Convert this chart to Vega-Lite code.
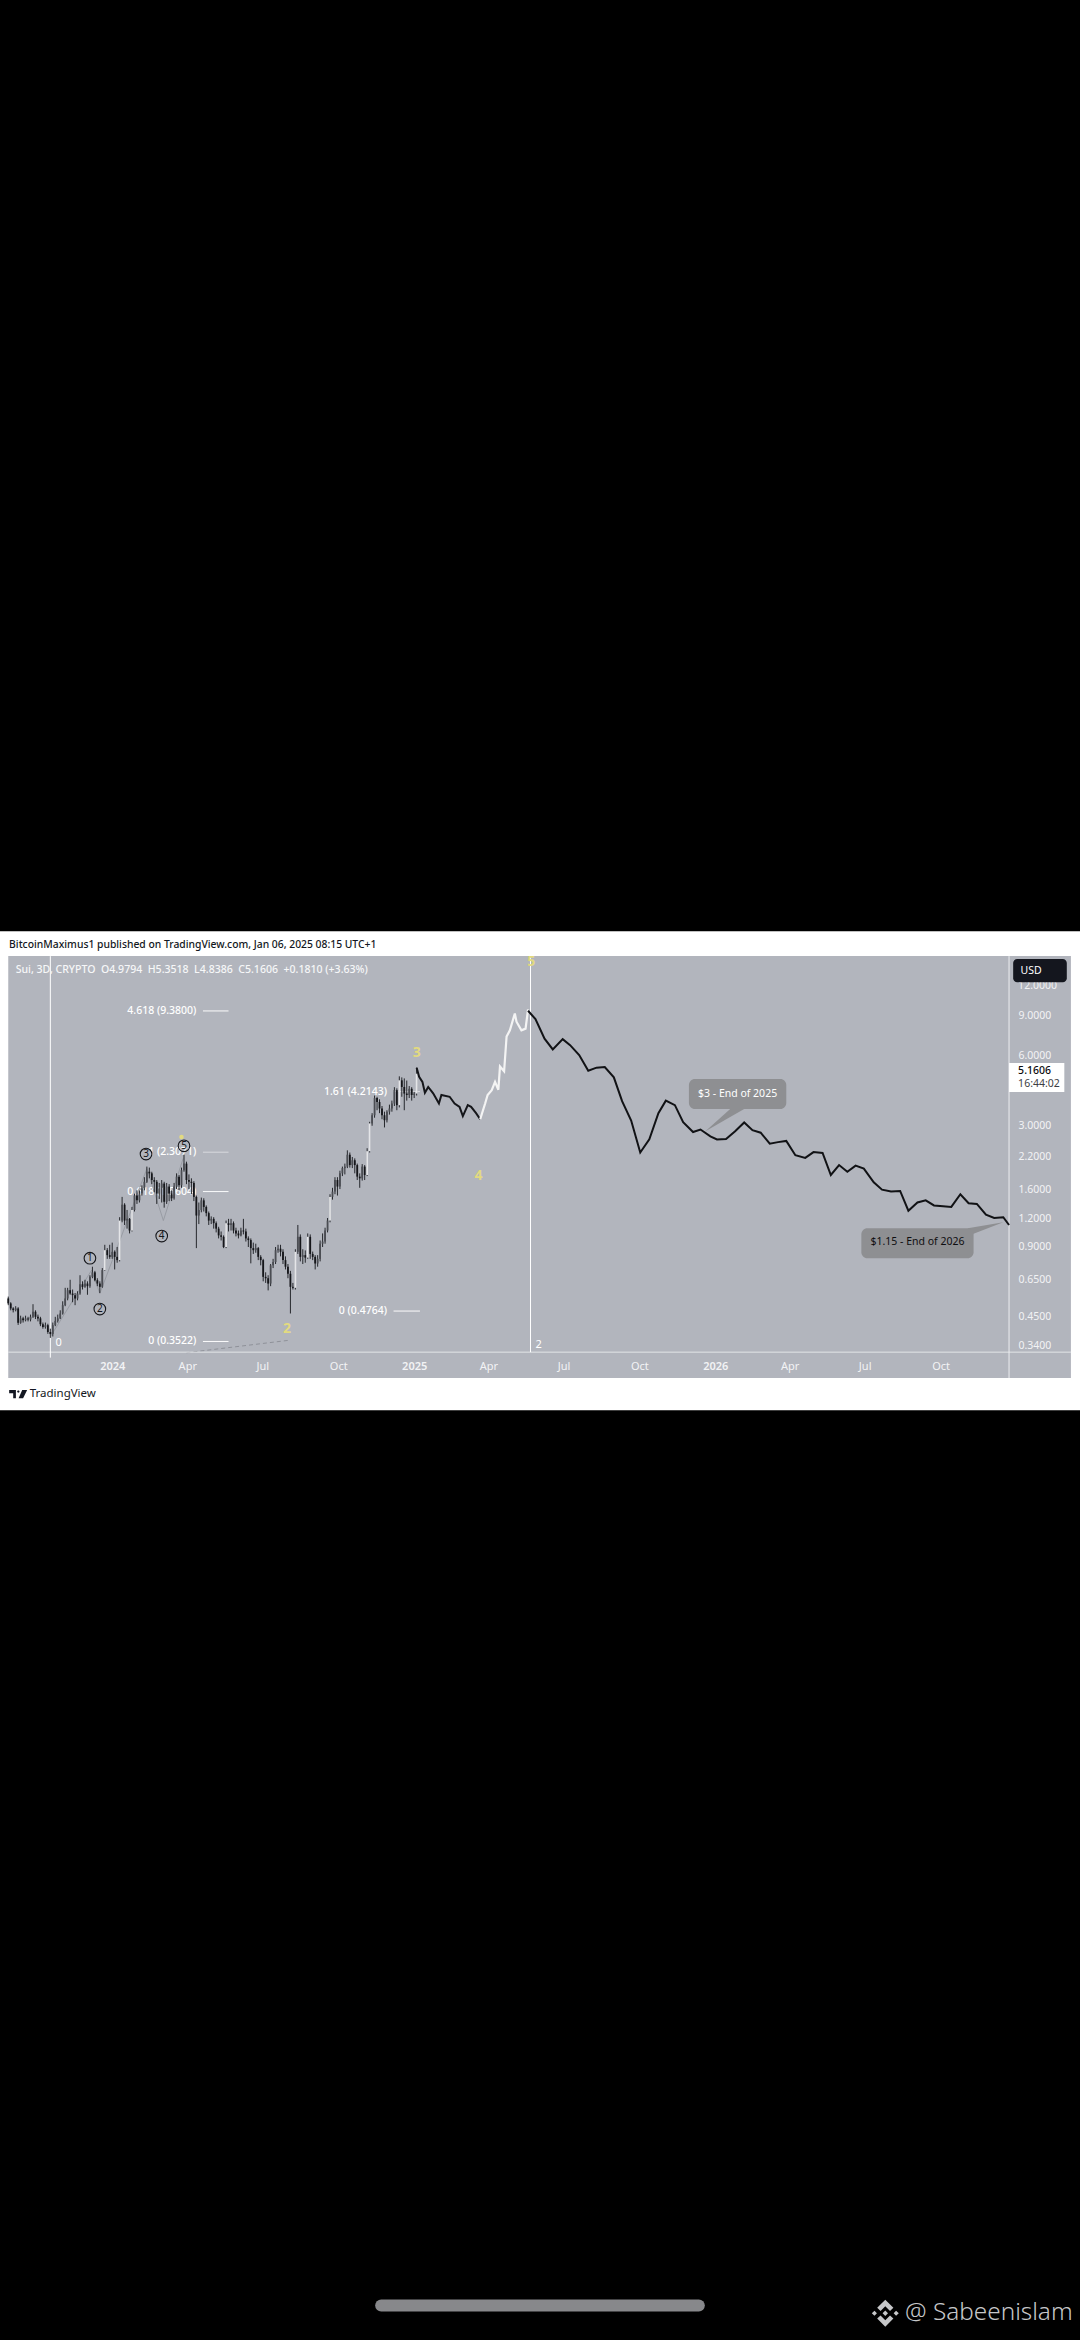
{
  "$schema": "https://vega.github.io/schema/vega-lite/v6.json",
  "width": 1080,
  "height": 2340,
  "padding": 0,
  "autosize": {"type": "none"},
  "background": "#000000",
  "config": {"view": {"stroke": null}, "font": "Noto Sans"},
  "datasets": {
    "candles": [
      {"date":"2023-08-28","open":0.54,"high":0.55,"low":0.505,"close":0.514},
      {"date":"2023-08-31","open":0.514,"high":0.52,"low":0.48,"close":0.489},
      {"date":"2023-09-03","open":0.489,"high":0.495,"low":0.47,"close":0.481},
      {"date":"2023-09-06","open":0.481,"high":0.5,"low":0.475,"close":0.489},
      {"date":"2023-09-09","open":0.489,"high":0.495,"low":0.415,"close":0.424},
      {"date":"2023-09-12","open":0.424,"high":0.455,"low":0.42,"close":0.443},
      {"date":"2023-09-15","open":0.443,"high":0.45,"low":0.425,"close":0.435},
      {"date":"2023-09-18","open":0.435,"high":0.455,"low":0.43,"close":0.443},
      {"date":"2023-09-21","open":0.443,"high":0.45,"low":0.43,"close":0.438},
      {"date":"2023-09-24","open":0.438,"high":0.46,"low":0.43,"close":0.45},
      {"date":"2023-09-27","open":0.45,"high":0.51,"low":0.445,"close":0.473},
      {"date":"2023-09-30","open":0.473,"high":0.48,"low":0.44,"close":0.45},
      {"date":"2023-10-03","open":0.45,"high":0.46,"low":0.43,"close":0.443},
      {"date":"2023-10-06","open":0.443,"high":0.45,"low":0.41,"close":0.418},
      {"date":"2023-10-09","open":0.418,"high":0.425,"low":0.4,"close":0.407},
      {"date":"2023-10-12","open":0.407,"high":0.425,"low":0.4,"close":0.414},
      {"date":"2023-10-15","open":0.414,"high":0.42,"low":0.38,"close":0.387},
      {"date":"2023-10-18","open":0.387,"high":0.4,"low":0.365,"close":0.379},
      {"date":"2023-10-21","open":0.379,"high":0.425,"low":0.37,"close":0.414},
      {"date":"2023-10-24","open":0.414,"high":0.45,"low":0.41,"close":0.432},
      {"date":"2023-10-27","open":0.432,"high":0.46,"low":0.425,"close":0.443},
      {"date":"2023-10-30","open":0.443,"high":0.48,"low":0.44,"close":0.465},
      {"date":"2023-11-02","open":0.465,"high":0.525,"low":0.46,"close":0.505},
      {"date":"2023-11-05","open":0.505,"high":0.6,"low":0.5,"close":0.54},
      {"date":"2023-11-08","open":0.54,"high":0.6,"low":0.53,"close":0.586},
      {"date":"2023-11-11","open":0.586,"high":0.65,"low":0.56,"close":0.567},
      {"date":"2023-11-14","open":0.567,"high":0.59,"low":0.52,"close":0.558},
      {"date":"2023-11-17","open":0.558,"high":0.57,"low":0.505,"close":0.54},
      {"date":"2023-11-20","open":0.54,"high":0.58,"low":0.53,"close":0.567},
      {"date":"2023-11-23","open":0.567,"high":0.68,"low":0.56,"close":0.622},
      {"date":"2023-11-26","open":0.622,"high":0.64,"low":0.59,"close":0.606},
      {"date":"2023-11-29","open":0.606,"high":0.65,"low":0.6,"close":0.626},
      {"date":"2023-12-02","open":0.626,"high":0.64,"low":0.56,"close":0.61},
      {"date":"2023-12-05","open":0.61,"high":0.68,"low":0.6,"close":0.669},
      {"date":"2023-12-08","open":0.669,"high":0.74,"low":0.66,"close":0.7},
      {"date":"2023-12-11","open":0.7,"high":0.71,"low":0.64,"close":0.647},
      {"date":"2023-12-14","open":0.647,"high":0.66,"low":0.61,"close":0.626},
      {"date":"2023-12-17","open":0.626,"high":0.64,"low":0.57,"close":0.606},
      {"date":"2023-12-20","open":0.606,"high":0.73,"low":0.6,"close":0.715},
      {"date":"2023-12-23","open":0.715,"high":0.92,"low":0.71,"close":0.872},
      {"date":"2023-12-26","open":0.872,"high":0.89,"low":0.8,"close":0.83},
      {"date":"2023-12-29","open":0.83,"high":0.92,"low":0.8,"close":0.816},
      {"date":"2024-01-01","open":0.816,"high":0.94,"low":0.8,"close":0.858},
      {"date":"2024-01-04","open":0.858,"high":0.87,"low":0.72,"close":0.816},
      {"date":"2024-01-07","open":0.816,"high":0.9,"low":0.77,"close":0.79},
      {"date":"2024-01-10","open":0.79,"high":1.21,"low":0.78,"close":1.17},
      {"date":"2024-01-13","open":1.17,"high":1.48,"low":1.15,"close":1.37},
      {"date":"2024-01-16","open":1.37,"high":1.39,"low":1.12,"close":1.17},
      {"date":"2024-01-19","open":1.17,"high":1.3,"low":1.08,"close":1.19},
      {"date":"2024-01-22","open":1.19,"high":1.2,"low":1.03,"close":1.06},
      {"date":"2024-01-25","open":1.06,"high":1.34,"low":1.05,"close":1.3},
      {"date":"2024-01-28","open":1.3,"high":1.53,"low":1.28,"close":1.5},
      {"date":"2024-01-31","open":1.5,"high":1.58,"low":1.38,"close":1.43},
      {"date":"2024-02-03","open":1.43,"high":1.58,"low":1.4,"close":1.53},
      {"date":"2024-02-06","open":1.53,"high":1.66,"low":1.5,"close":1.61},
      {"date":"2024-02-09","open":1.61,"high":1.8,"low":1.58,"close":1.72},
      {"date":"2024-02-12","open":1.72,"high":2.0,"low":1.7,"close":1.9},
      {"date":"2024-02-15","open":1.9,"high":1.98,"low":1.78,"close":1.87},
      {"date":"2024-02-18","open":1.87,"high":1.9,"low":1.68,"close":1.75},
      {"date":"2024-02-21","open":1.75,"high":1.8,"low":1.55,"close":1.72},
      {"date":"2024-02-24","open":1.72,"high":1.75,"low":1.38,"close":1.53},
      {"date":"2024-02-27","open":1.53,"high":1.7,"low":1.45,"close":1.61},
      {"date":"2024-03-01","open":1.61,"high":1.75,"low":1.4,"close":1.69},
      {"date":"2024-03-04","open":1.69,"high":1.72,"low":1.33,"close":1.41},
      {"date":"2024-03-07","open":1.41,"high":1.7,"low":1.38,"close":1.64},
      {"date":"2024-03-10","open":1.64,"high":1.68,"low":1.42,"close":1.53},
      {"date":"2024-03-13","open":1.53,"high":1.58,"low":1.42,"close":1.46},
      {"date":"2024-03-16","open":1.46,"high":1.7,"low":1.44,"close":1.64},
      {"date":"2024-03-19","open":1.64,"high":1.87,"low":1.6,"close":1.81},
      {"date":"2024-03-22","open":1.81,"high":1.84,"low":1.58,"close":1.66},
      {"date":"2024-03-25","open":1.66,"high":1.98,"low":1.62,"close":1.93},
      {"date":"2024-03-28","open":1.93,"high":2.25,"low":1.9,"close":2.06},
      {"date":"2024-03-31","open":2.06,"high":2.1,"low":1.68,"close":1.75},
      {"date":"2024-04-03","open":1.75,"high":1.85,"low":1.6,"close":1.72},
      {"date":"2024-04-06","open":1.72,"high":1.78,"low":1.52,"close":1.7},
      {"date":"2024-04-09","open":1.7,"high":1.73,"low":1.42,"close":1.48},
      {"date":"2024-04-12","open":1.48,"high":1.5,"low":0.89,"close":1.23},
      {"date":"2024-04-15","open":1.23,"high":1.4,"low":1.13,"close":1.3},
      {"date":"2024-04-18","open":1.3,"high":1.47,"low":1.27,"close":1.43},
      {"date":"2024-04-21","open":1.43,"high":1.46,"low":1.28,"close":1.34},
      {"date":"2024-04-24","open":1.34,"high":1.36,"low":1.22,"close":1.26},
      {"date":"2024-04-27","open":1.26,"high":1.28,"low":1.12,"close":1.17},
      {"date":"2024-04-30","open":1.17,"high":1.22,"low":1.13,"close":1.19},
      {"date":"2024-05-03","open":1.19,"high":1.21,"low":1.08,"close":1.14},
      {"date":"2024-05-06","open":1.14,"high":1.16,"low":1.04,"close":1.08},
      {"date":"2024-05-09","open":1.08,"high":1.1,"low":0.98,"close":1.01},
      {"date":"2024-05-12","open":1.01,"high":1.05,"low":0.96,"close":0.996},
      {"date":"2024-05-15","open":0.996,"high":1.01,"low":0.89,"close":0.9},
      {"date":"2024-05-18","open":0.9,"high":1.17,"low":0.89,"close":1.14},
      {"date":"2024-05-21","open":1.14,"high":1.19,"low":1.05,"close":1.12},
      {"date":"2024-05-24","open":1.12,"high":1.19,"low":1.06,"close":1.14},
      {"date":"2024-05-27","open":1.14,"high":1.16,"low":1.03,"close":1.06},
      {"date":"2024-05-30","open":1.06,"high":1.09,"low":1.0,"close":1.03},
      {"date":"2024-06-02","open":1.03,"high":1.06,"low":0.98,"close":1.01},
      {"date":"2024-06-05","open":1.01,"high":1.09,"low":1.0,"close":1.06},
      {"date":"2024-06-08","open":1.06,"high":1.19,"low":1.02,"close":1.05},
      {"date":"2024-06-11","open":1.05,"high":1.08,"low":0.95,"close":0.98},
      {"date":"2024-06-14","open":0.98,"high":1.0,"low":0.9,"close":0.964},
      {"date":"2024-06-17","open":0.964,"high":0.98,"low":0.765,"close":0.89},
      {"date":"2024-06-20","open":0.89,"high":0.94,"low":0.84,"close":0.872},
      {"date":"2024-06-23","open":0.872,"high":0.93,"low":0.85,"close":0.89},
      {"date":"2024-06-26","open":0.89,"high":0.9,"low":0.79,"close":0.816},
      {"date":"2024-06-29","open":0.816,"high":0.83,"low":0.75,"close":0.79},
      {"date":"2024-07-02","open":0.79,"high":0.8,"low":0.64,"close":0.669},
      {"date":"2024-07-05","open":0.669,"high":0.7,"low":0.63,"close":0.66},
      {"date":"2024-07-08","open":0.66,"high":0.68,"low":0.585,"close":0.626},
      {"date":"2024-07-11","open":0.626,"high":0.76,"low":0.61,"close":0.75},
      {"date":"2024-07-14","open":0.75,"high":0.8,"low":0.73,"close":0.775},
      {"date":"2024-07-17","open":0.775,"high":0.9,"low":0.76,"close":0.872},
      {"date":"2024-07-20","open":0.872,"high":0.92,"low":0.85,"close":0.885},
      {"date":"2024-07-23","open":0.885,"high":0.92,"low":0.82,"close":0.858},
      {"date":"2024-07-26","open":0.858,"high":0.88,"low":0.76,"close":0.79},
      {"date":"2024-07-29","open":0.79,"high":0.82,"low":0.72,"close":0.74},
      {"date":"2024-08-01","open":0.74,"high":0.76,"low":0.66,"close":0.69},
      {"date":"2024-08-04","open":0.69,"high":0.71,"low":0.465,"close":0.606},
      {"date":"2024-08-07","open":0.606,"high":0.63,"low":0.59,"close":0.6},
      {"date":"2024-08-10","open":0.6,"high":0.88,"low":0.59,"close":0.858},
      {"date":"2024-08-13","open":0.858,"high":1.12,"low":0.84,"close":0.996},
      {"date":"2024-08-16","open":0.996,"high":1.02,"low":0.78,"close":0.816},
      {"date":"2024-08-19","open":0.816,"high":0.88,"low":0.76,"close":0.83},
      {"date":"2024-08-22","open":0.83,"high":0.87,"low":0.77,"close":0.81},
      {"date":"2024-08-25","open":0.81,"high":1.03,"low":0.8,"close":0.996},
      {"date":"2024-08-28","open":0.996,"high":1.02,"low":0.8,"close":0.84},
      {"date":"2024-08-31","open":0.84,"high":0.86,"low":0.79,"close":0.816},
      {"date":"2024-09-03","open":0.816,"high":0.83,"low":0.72,"close":0.764},
      {"date":"2024-09-06","open":0.764,"high":0.83,"low":0.74,"close":0.8},
      {"date":"2024-09-09","open":0.8,"high":0.96,"low":0.78,"close":0.93},
      {"date":"2024-09-12","open":0.93,"high":1.03,"low":0.9,"close":0.95},
      {"date":"2024-09-15","open":0.95,"high":1.09,"low":0.93,"close":1.06},
      {"date":"2024-09-18","open":1.06,"high":1.2,"low":1.04,"close":1.17},
      {"date":"2024-09-21","open":1.17,"high":1.52,"low":1.15,"close":1.48},
      {"date":"2024-09-24","open":1.48,"high":1.62,"low":1.44,"close":1.56},
      {"date":"2024-09-27","open":1.56,"high":1.8,"low":1.52,"close":1.75},
      {"date":"2024-09-30","open":1.75,"high":1.8,"low":1.5,"close":1.64},
      {"date":"2024-10-03","open":1.64,"high":1.92,"low":1.6,"close":1.87},
      {"date":"2024-10-06","open":1.87,"high":2.0,"low":1.82,"close":1.97},
      {"date":"2024-10-09","open":1.97,"high":2.06,"low":1.85,"close":2.0},
      {"date":"2024-10-12","open":2.0,"high":2.35,"low":1.97,"close":2.25},
      {"date":"2024-10-15","open":2.25,"high":2.3,"low":1.98,"close":2.03},
      {"date":"2024-10-18","open":2.03,"high":2.2,"low":1.97,"close":2.13},
      {"date":"2024-10-21","open":2.13,"high":2.17,"low":1.87,"close":2.03},
      {"date":"2024-10-24","open":2.03,"high":2.06,"low":1.75,"close":1.81},
      {"date":"2024-10-27","open":1.81,"high":1.87,"low":1.62,"close":1.78},
      {"date":"2024-10-30","open":1.78,"high":2.05,"low":1.74,"close":2.0},
      {"date":"2024-11-02","open":2.0,"high":2.03,"low":1.75,"close":1.84},
      {"date":"2024-11-05","open":1.84,"high":2.4,"low":1.82,"close":2.33},
      {"date":"2024-11-08","open":2.33,"high":3.12,"low":2.3,"close":3.07},
      {"date":"2024-11-11","open":3.07,"high":3.4,"low":3.0,"close":3.33},
      {"date":"2024-11-14","open":3.33,"high":4.05,"low":3.25,"close":3.95},
      {"date":"2024-11-17","open":3.95,"high":4.0,"low":3.5,"close":3.8},
      {"date":"2024-11-20","open":3.8,"high":3.9,"low":3.4,"close":3.56},
      {"date":"2024-11-23","open":3.56,"high":3.65,"low":3.2,"close":3.33},
      {"date":"2024-11-26","open":3.33,"high":3.45,"low":2.95,"close":3.17},
      {"date":"2024-11-29","open":3.17,"high":3.5,"low":3.1,"close":3.45},
      {"date":"2024-12-02","open":3.45,"high":3.7,"low":3.35,"close":3.56},
      {"date":"2024-12-05","open":3.56,"high":3.85,"low":3.45,"close":3.74},
      {"date":"2024-12-08","open":3.74,"high":4.4,"low":3.65,"close":4.27},
      {"date":"2024-12-11","open":4.27,"high":4.35,"low":3.5,"close":3.68},
      {"date":"2024-12-14","open":3.68,"high":4.9,"low":3.6,"close":4.71},
      {"date":"2024-12-17","open":4.71,"high":4.85,"low":4.0,"close":4.41},
      {"date":"2024-12-20","open":4.41,"high":4.8,"low":3.5,"close":4.13},
      {"date":"2024-12-23","open":4.13,"high":4.7,"low":3.85,"close":4.07},
      {"date":"2024-12-26","open":4.07,"high":4.45,"low":3.95,"close":4.33},
      {"date":"2024-12-29","open":4.33,"high":4.4,"low":3.85,"close":4.07},
      {"date":"2025-01-01","open":4.07,"high":4.2,"low":3.95,"close":4.13},
      {"date":"2025-01-04","open":4.13,"high":5.35,"low":4.05,"close":5.03}
    ],
    "pullback": [
      {"date":"2025-01-04","price":5.34},{"date":"2025-01-07","price":4.88},{"date":"2025-01-11","price":4.64},
      {"date":"2025-01-14","price":4.16},{"date":"2025-01-18","price":4.41},{"date":"2025-01-24","price":4.14},
      {"date":"2025-01-31","price":3.74},{"date":"2025-02-03","price":4.07},{"date":"2025-02-13","price":4.0},
      {"date":"2025-02-19","price":3.74},{"date":"2025-02-25","price":3.62},{"date":"2025-03-01","price":3.3},
      {"date":"2025-03-07","price":3.68},{"date":"2025-03-11","price":3.62},{"date":"2025-03-17","price":3.4},
      {"date":"2025-03-22","price":3.2}
    ],
    "rally": [
      {"date":"2025-03-22","price":3.2},{"date":"2025-03-28","price":3.74},{"date":"2025-03-31","price":4.07},
      {"date":"2025-04-05","price":4.27},{"date":"2025-04-09","price":4.64},{"date":"2025-04-13","price":4.29},
      {"date":"2025-04-15","price":5.4},{"date":"2025-04-20","price":5.15},{"date":"2025-04-23","price":7.28},
      {"date":"2025-04-27","price":7.74},{"date":"2025-05-03","price":9.15},{"date":"2025-05-05","price":8.43},
      {"date":"2025-05-11","price":7.74},{"date":"2025-05-16","price":7.87},{"date":"2025-05-19","price":9.52}
    ],
    "forecast": [
      {"date":"2025-05-19","price":9.4},{"date":"2025-05-28","price":8.65},{"date":"2025-06-08","price":7.12},
      {"date":"2025-06-18","price":6.4},{"date":"2025-06-30","price":7.09},{"date":"2025-07-09","price":6.68},
      {"date":"2025-07-20","price":6.05},{"date":"2025-07-31","price":5.18},{"date":"2025-08-10","price":5.34},
      {"date":"2025-08-20","price":5.37},{"date":"2025-08-31","price":4.85},{"date":"2025-09-10","price":3.83},
      {"date":"2025-09-21","price":3.16},{"date":"2025-10-02","price":2.3},{"date":"2025-10-13","price":2.62},
      {"date":"2025-10-24","price":3.4},{"date":"2025-11-02","price":3.85},{"date":"2025-11-13","price":3.68},
      {"date":"2025-11-23","price":3.11},{"date":"2025-12-05","price":2.82},{"date":"2025-12-14","price":2.89},
      {"date":"2025-12-26","price":2.7},{"date":"2026-01-03","price":2.62},{"date":"2026-01-14","price":2.63},
      {"date":"2026-01-25","price":2.84},{"date":"2026-02-05","price":3.1},{"date":"2026-02-15","price":2.87},
      {"date":"2026-02-25","price":2.8},{"date":"2026-03-08","price":2.51},{"date":"2026-03-18","price":2.55},
      {"date":"2026-03-28","price":2.58},{"date":"2026-04-08","price":2.24},{"date":"2026-04-20","price":2.18},
      {"date":"2026-04-30","price":2.31},{"date":"2026-05-11","price":2.29},{"date":"2026-05-21","price":1.84},
      {"date":"2026-05-31","price":2.03},{"date":"2026-06-10","price":1.9},{"date":"2026-06-20","price":2.02},
      {"date":"2026-06-30","price":1.96},{"date":"2026-07-12","price":1.71},{"date":"2026-07-22","price":1.59},
      {"date":"2026-08-02","price":1.56},{"date":"2026-08-13","price":1.57},{"date":"2026-08-23","price":1.29},
      {"date":"2026-09-03","price":1.4},{"date":"2026-09-13","price":1.43},{"date":"2026-09-23","price":1.36},
      {"date":"2026-10-04","price":1.35},{"date":"2026-10-14","price":1.34},{"date":"2026-10-25","price":1.52},
      {"date":"2026-11-04","price":1.39},{"date":"2026-11-14","price":1.38},{"date":"2026-11-25","price":1.24},
      {"date":"2026-12-05","price":1.2},{"date":"2026-12-16","price":1.21},{"date":"2026-12-23","price":1.12}
    ],
    "subwaves": [
      {"date":"2023-10-18","price":0.369},{"date":"2023-12-07","price":0.715},{"date":"2023-12-17","price":0.567},
      {"date":"2024-02-12","price":1.96},{"date":"2024-03-03","price":1.17},{"date":"2024-03-27","price":2.17}
    ],
    "fibLabels": [
      {"date":"2024-04-12","price":9.38,"label":"4.618 (9.3800)"},
      {"date":"2024-04-12","price":2.3071,"label":"1 (2.3071)"},
      {"date":"2024-04-12","price":1.5604,"label":"0.618 (1.5604)"},
      {"date":"2024-04-12","price":0.3522,"label":"0 (0.3522)"},
      {"date":"2024-11-29","price":4.2143,"label":"1.61 (4.2143)"},
      {"date":"2024-11-29","price":0.4764,"label":"0 (0.4764)"}
    ],
    "fibLines": [
      {"date":"2024-04-20","date2":"2024-05-21","price":9.38,"level":4.618},
      {"date":"2024-04-20","date2":"2024-05-21","price":2.3071,"level":1},
      {"date":"2024-04-20","date2":"2024-05-21","price":1.5604,"level":0.618},
      {"date":"2024-04-20","date2":"2024-05-21","price":0.3522,"level":0},
      {"date":"2024-12-07","date2":"2025-01-08","price":4.2143,"level":1.61},
      {"date":"2024-12-07","date2":"2025-01-08","price":0.4764,"level":0}
    ],
    "circled": [
      {"date":"2023-12-05","price":0.805,"label":"1"},
      {"date":"2023-12-17","price":0.486,"label":"2"},
      {"date":"2024-02-11","price":2.264,"label":"3"},
      {"date":"2024-03-01","price":1.003,"label":"4"},
      {"date":"2024-03-28","price":2.458,"label":"5"}
    ],
    "yellowWaves": [
      {"date":"2024-07-31","price":0.398,"label":"2"},
      {"date":"2025-01-04","price":6.19,"label":"3"},
      {"date":"2025-03-20","price":1.824,"label":"4"},
      {"date":"2025-05-23","price":15.27,"label":"5"}
    ],
    "markers": [
      {"date":"2023-10-18","price":16.17,"price2":0.3},
      {"date":"2025-05-22","price":16.17,"price2":0.3168}
    ],
    "callouts": [
      {"date":"2025-11-30","date2":"2026-03-28","price":4.77,"price2":3.54},
      {"date":"2026-06-27","date2":"2026-11-10","price":1.085,"price2":0.805}
    ],
    "pointers": [
      {"id":"a","date":"2025-12-20","price":2.844,"price2":2.844},
      {"id":"a","date":"2026-01-19","price":3.54,"price2":3.27},
      {"id":"a","date":"2026-02-05","price":3.54,"price2":3.54},
      {"id":"b","date":"2026-11-03","price":1.085,"price2":1.003},
      {"id":"b","date":"2026-12-16","price":1.152,"price2":1.152}
    ]
  },
  "encoding": {
    "x": {
      "field": "date",
      "type": "temporal",
      "title": null,
      "scale": {"type": "utc", "domain": ["2023-08-18", "2027-03-19"], "nice": false},
      "axis": {
        "orient": "bottom",
        "offset": -980,
        "values": ["2024-01-01","2024-04-01","2024-07-01","2024-10-01","2025-01-01","2025-04-01","2025-07-01","2025-10-01","2026-01-01","2026-04-01","2026-07-01","2026-10-01"],
        "labelExpr": "utcmonth(datum.value) == 0 ? utcFormat(datum.value, '%Y') : utcFormat(datum.value, '%b')",
        "labelFontWeight": {"condition": {"test": "utcmonth(datum.value) == 0", "value": 600}, "value": 400},
        "labelColor": "#f2f3f5",
        "labelFontSize": 11,
        "labelPadding": 0,
        "labelOverlap": false,
        "domain": false,
        "ticks": false,
        "tickSize": 0,
        "grid": false,
        "zindex": 1
      }
    },
    "y": {
      "field": "price",
      "type": "quantitative",
      "title": null,
      "scale": {"type": "log", "domain": [1.74e-5, 214800], "nice": false},
      "axis": {
        "orient": "right",
        "offset": -62,
        "values": [9, 6, 3, 2.2, 1.6, 1.2, 0.9, 0.65, 0.45, 0.34],
        "format": ".4f",
        "labelColor": "#f2f3f5",
        "labelFontSize": 10.5,
        "labelPadding": 0,
        "labelOverlap": false,
        "domain": false,
        "ticks": false,
        "tickSize": 0,
        "grid": false,
        "zindex": 1
      }
    }
  },
  "layer": [
    {
      "data": {"values": [{"date": "2023-08-18", "date2": "2027-03-19", "price": 20.7, "price2": 0.178}]},
      "mark": {"type": "rect", "color": "#ffffff"},
      "encoding": {"x2": {"field": "date2"}, "y2": {"field": "price2"}}
    },
    {
      "data": {"values": [{"date": "2023-08-28", "date2": "2027-03-08", "price": 16.17, "price2": 0.2448}]},
      "mark": {"type": "rect", "color": "#b2b5bd"},
      "encoding": {"x2": {"field": "date2"}, "y2": {"field": "price2"}}
    },
    {
      "data": {"name": "fibLabels"},
      "mark": {"type": "text", "align": "right", "baseline": "middle", "color": "#ffffff", "fontSize": 10.5, "fontWeight": 500},
      "encoding": {"text": {"field": "label"}}
    },
    {
      "data": {"name": "fibLines"},
      "mark": {"type": "rule", "color": "#ffffff", "strokeWidth": 1},
      "encoding": {
        "x2": {"field": "date2"},
        "opacity": {"condition": {"test": "datum.level == 1 || datum.level == 1.61", "value": 0.5}, "value": 0.95}
      }
    },
    {
      "data": {"name": "subwaves"},
      "mark": {"type": "line", "color": "#92959d", "strokeWidth": 0.8},
      "encoding": {}
    },
    {
      "data": {"values": [{"date": "2024-03-31", "price": 0.315}, {"date": "2024-08-04", "price": 0.357}]},
      "mark": {"type": "line", "color": "#85888f", "strokeWidth": 0.8, "strokeDash": [4, 3]},
      "encoding": {}
    },
    {
      "data": {"values": [{"date": "2023-08-28", "date2": "2027-03-08", "price": 0.3168}]},
      "mark": {"type": "rule", "color": "#e3e5e8", "strokeWidth": 1},
      "encoding": {"x2": {"field": "date2"}}
    },
    {
      "data": {"values": [{"date": "2026-12-23", "price": 16.17, "price2": 0.2448}]},
      "mark": {"type": "rule", "color": "#eceef0", "strokeWidth": 1},
      "encoding": {"y2": {"field": "price2"}}
    },
    {
      "data": {"name": "markers"},
      "mark": {"type": "rule", "color": "#ffffff", "strokeWidth": 1},
      "encoding": {"y2": {"field": "price2"}}
    },
    {
      "data": {"name": "candles"},
      "mark": {"type": "rule", "color": "#26282d", "strokeWidth": 1},
      "encoding": {
        "y": {
          "field": "high",
          "type": "quantitative",
          "title": null,
          "scale": {"type": "log", "domain": [1.74e-5, 214800], "nice": false},
          "axis": {
            "orient": "right",
            "offset": -62,
            "values": [9, 6, 3, 2.2, 1.6, 1.2, 0.9, 0.65, 0.45, 0.34],
            "format": ".4f",
            "labelColor": "#f2f3f5",
            "labelFontSize": 10.5,
            "labelPadding": 0,
            "labelOverlap": false,
            "domain": false,
            "ticks": false,
            "tickSize": 0,
            "grid": false,
            "zindex": 1
          }
        },
        "y2": {"field": "low"}
      }
    },
    {
      "data": {"name": "candles"},
      "mark": {"type": "rule", "strokeWidth": 1.8},
      "encoding": {
        "y": {
          "field": "open",
          "type": "quantitative",
          "title": null,
          "scale": {"type": "log", "domain": [1.74e-5, 214800], "nice": false},
          "axis": {
            "orient": "right",
            "offset": -62,
            "values": [9, 6, 3, 2.2, 1.6, 1.2, 0.9, 0.65, 0.45, 0.34],
            "format": ".4f",
            "labelColor": "#f2f3f5",
            "labelFontSize": 10.5,
            "labelPadding": 0,
            "labelOverlap": false,
            "domain": false,
            "ticks": false,
            "tickSize": 0,
            "grid": false,
            "zindex": 1
          }
        },
        "y2": {"field": "close"},
        "color": {
          "condition": [
            {"test": "datum.close / datum.open > 1.2", "value": "#e4e5e8"},
            {"test": "datum.close > datum.open", "value": "#4b4d53"}
          ],
          "value": "#15161a"
        }
      }
    },
    {
      "data": {"name": "pullback"},
      "mark": {"type": "line", "color": "#15161a", "strokeWidth": 2},
      "encoding": {}
    },
    {
      "data": {"name": "rally"},
      "mark": {"type": "line", "color": "#f4f4f4", "strokeWidth": 2.2},
      "encoding": {}
    },
    {
      "data": {"name": "forecast"},
      "mark": {"type": "line", "color": "#111215", "strokeWidth": 2},
      "encoding": {}
    },
    {
      "data": {"name": "pointers"},
      "mark": {"type": "area", "color": "#8e8f92"},
      "encoding": {"y2": {"field": "price2"}, "detail": {"field": "id"}}
    },
    {
      "data": {"name": "callouts"},
      "mark": {"type": "rect", "color": "#8e8f92", "cornerRadius": 6},
      "encoding": {"x2": {"field": "date2"}, "y2": {"field": "price2"}}
    },
    {
      "data": {"values": [{"date": "2026-01-28", "price": 4.12, "label": "$3 - End of 2025"}]},
      "mark": {"type": "text", "align": "center", "baseline": "middle", "color": "#ffffff", "fontSize": 10.5},
      "encoding": {"text": {"field": "label"}}
    },
    {
      "data": {"values": [{"date": "2026-09-03", "price": 0.945, "label": "$1.15 - End of 2026"}]},
      "mark": {"type": "text", "align": "center", "baseline": "middle", "color": "#0e0e10", "fontSize": 10.5},
      "encoding": {"text": {"field": "label"}}
    },
    {
      "data": {"name": "circled"},
      "mark": {"type": "point", "shape": "circle", "filled": false, "color": "#15161a", "opacity": 1, "size": 135, "strokeWidth": 1.1},
      "encoding": {}
    },
    {
      "data": {"name": "circled"},
      "mark": {"type": "text", "align": "center", "baseline": "middle", "color": "#15161a", "fontSize": 10},
      "encoding": {"text": {"field": "label"}}
    },
    {
      "data": {"name": "yellowWaves"},
      "mark": {"type": "text", "align": "center", "baseline": "middle", "color": "#e2da80", "fontSize": 14, "fontWeight": 700},
      "encoding": {"text": {"field": "label"}}
    },
    {
      "data": {"values": [{"date": "2024-03-25", "price": 2.68}]},
      "mark": {"type": "point", "shape": "circle", "filled": true, "color": "#e2da80", "opacity": 1, "size": 20},
      "encoding": {}
    },
    {
      "data": {"values": [{"date": "2023-10-28", "price": 0.3465, "label": "0"}, {"date": "2025-06-01", "price": 0.34, "label": "2"}]},
      "mark": {"type": "text", "align": "center", "baseline": "middle", "color": "#ffffff", "fontSize": 11},
      "encoding": {"text": {"field": "label"}}
    },
    {
      "data": {"values": [{"date": "2027-01-03", "price": 12, "label": "12.0000"}]},
      "mark": {"type": "text", "align": "left", "baseline": "middle", "color": "#f2f3f5", "fontSize": 10.5},
      "encoding": {"text": {"field": "label"}}
    },
    {
      "data": {"values": [{"date": "2026-12-28", "date2": "2027-03-03", "price": 15.7, "price2": 12.48}]},
      "mark": {"type": "rect", "color": "#14161e", "cornerRadius": 4},
      "encoding": {"x2": {"field": "date2"}, "y2": {"field": "price2"}}
    },
    {
      "data": {"values": [{"date": "2027-01-06", "price": 14.0, "label": "USD"}]},
      "mark": {"type": "text", "align": "left", "baseline": "middle", "color": "#ffffff", "fontSize": 10.5},
      "encoding": {"text": {"field": "label"}}
    },
    {
      "data": {"values": [{"date": "2026-12-23", "date2": "2027-02-28", "price": 5.59, "price2": 4.19}]},
      "mark": {"type": "rect", "color": "#ffffff"},
      "encoding": {"x2": {"field": "date2"}, "y2": {"field": "price2"}}
    },
    {
      "data": {"values": [{"date": "2027-01-03", "price": 5.16, "label": "5.1606"}]},
      "mark": {"type": "text", "align": "left", "baseline": "middle", "color": "#0b0b0d", "fontSize": 10.5, "fontWeight": 500},
      "encoding": {"text": {"field": "label"}}
    },
    {
      "data": {"values": [{"date": "2027-01-03", "price": 4.54, "label": "16:44:02"}]},
      "mark": {"type": "text", "align": "left", "baseline": "middle", "color": "#3c3e44", "fontSize": 10.5},
      "encoding": {"text": {"field": "label"}}
    },
    {
      "data": {"values": [{"date": "2023-08-29", "price": 18.0, "label": "BitcoinMaximus1 published on TradingView.com, Jan 06, 2025 08:15 UTC+1"}]},
      "mark": {"type": "text", "align": "left", "baseline": "middle", "color": "#131722", "fontSize": 10.35, "fontWeight": 500},
      "encoding": {"text": {"field": "label"}}
    },
    {
      "data": {"values": [{"date": "2023-09-06", "price": 14.07, "label": "Sui, 3D, CRYPTO\u00a0\u00a0O4.9794\u00a0\u00a0H5.3518\u00a0\u00a0L4.8386\u00a0\u00a0C5.1606\u00a0\u00a0+0.1810 (+3.63%)"}]},
      "mark": {"type": "text", "align": "left", "baseline": "middle", "color": "#f6f7f8", "fontSize": 10.55, "fontWeight": 500},
      "encoding": {"text": {"field": "label"}}
    },
    {
      "data": {"values": [{"date": "2023-09-09", "price": 0.2088}]},
      "mark": {
        "type": "point",
        "filled": true,
        "opacity": 1,
        "color": "#131722",
        "size": 324,
        "shape": "M-1 -0.45H-0.25V0.45H-0.55V-0.1H-1ZM0.15 -0.28A0.13 0.13 0 1 1 -0.11 -0.28A0.13 0.13 0 1 1 0.15 -0.28ZM0.45 -0.45H1L0.55 0.45H0.05Z"
      },
      "encoding": {}
    },
    {
      "data": {"values": [{"date": "2023-09-23", "price": 0.2088, "label": "TradingView"}]},
      "mark": {"type": "text", "align": "left", "baseline": "middle", "color": "#131722", "fontSize": 11.5},
      "encoding": {"text": {"field": "label"}}
    },
    {
      "data": {"values": [{"date": "2024-11-22", "date2": "2025-12-12", "price": 2.45e-5}]},
      "mark": {"type": "rule", "color": "#87888b", "strokeWidth": 12, "strokeCap": "round"},
      "encoding": {"x2": {"field": "date2"}}
    },
    {
      "data": {"values": [{"date": "2026-07-26", "price": 2.27e-5}]},
      "mark": {
        "type": "point",
        "filled": true,
        "opacity": 1,
        "color": "#c6c7c9",
        "size": 729,
        "shape": "M0 -0.2L0.2 0L0 0.2L-0.2 0ZM-0.8 -0.18L-0.62 0L-0.8 0.18L-1 0ZM0.8 -0.18L1 0L0.8 0.18L0.62 0ZM0 -1L0.6 -0.4L0.35 -0.17L0 -0.52L-0.35 -0.17L-0.6 -0.4ZM0 1L0.6 0.4L0.35 0.17L0 0.52L-0.35 0.17L-0.6 0.4Z"
      },
      "encoding": {}
    },
    {
      "data": {"values": [{"date": "2026-08-19", "price": 2.27e-5, "label": "@ Sabeenislam"}]},
      "mark": {"type": "text", "align": "left", "baseline": "middle", "color": "#c6c7c9", "fontSize": 24.3, "fontWeight": 300},
      "encoding": {"text": {"field": "label"}}
    }
  ]
}
